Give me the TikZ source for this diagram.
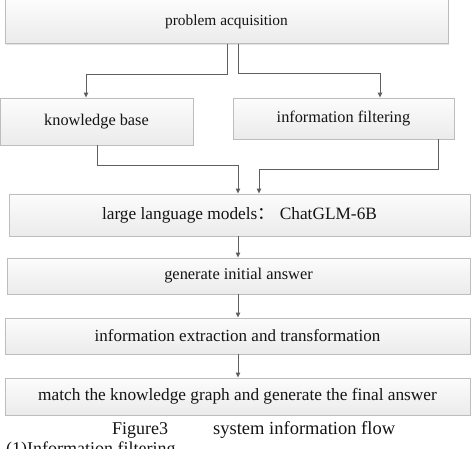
\documentclass[tikz,border=0pt]{standalone}
\usepackage{fontspec}
\setmainfont{Liberation Serif}
\newfontfamily\cjk{Noto Sans CJK SC}
\usetikzlibrary{arrows.meta,shadows}
\definecolor{boxline}{HTML}{BDBDBD}
\definecolor{boxtop}{HTML}{FCFCFC}
\definecolor{boxbot}{HTML}{EBEBEB}
\definecolor{arrcol}{HTML}{5F5F5F}
\definecolor{txtcol}{HTML}{141414}
\tikzset{
  box/.style={draw=boxline, line width=0.9pt, top color=boxtop, bottom color=boxbot,
    drop shadow={shadow xshift=1.2pt, shadow yshift=-1.2pt, fill=black!18, opacity=0.6},
    inner sep=0pt, text=txtcol},
  fs/.style={font=\fontsize{#1}{#1}\selectfont},
  arr/.style={draw=arrcol, line width=1pt, -{Triangle[length=5pt,width=4.5pt]}}
}
\begin{document}
\begin{tikzpicture}[x=1pt,y=1pt]
\useasboundingbox (0,0) rectangle (474,-449);
\begin{scope}
\clip (0,0) rectangle (474,-449);
\node[box, fs=15.4, minimum width=443pt, minimum height=44pt] (pa) at (226.5,-21.5) {problem acquisition};
\node[box, fs=16.3, minimum width=193pt, minimum height=47pt] (kb) at (96.5,-121.5) {knowledge base};
\node[box, fs=16.3, minimum width=221pt, minimum height=41pt] (inf) at (343.5,-118.5) {information filtering};
\node[box, fs=17.3, minimum width=461pt, minimum height=42pt] (llm) at (239.5,-215) {large language models{\cjk ：}\hspace{0.3em}ChatGLM-6B};
\node[box, fs=16.4, minimum width=463pt, minimum height=36pt] (gen) at (238.5,-276) {generate initial answer};
\node[box, fs=17, minimum width=465pt, minimum height=36pt] (ext) at (237.5,-336) {information extraction and transformation};
\node[box, fs=17.3, minimum width=465pt, minimum height=37pt] (fin) at (237.5,-396.5) {match the knowledge graph and generate the final answer};

\draw[arr] ([xshift=0.5pt]pa.south) -- ++(0,-31) -| ([xshift=-10.5pt]kb.north);
\draw[arr] ([xshift=11.5pt]pa.south) -- ++(0,-30) -| ([xshift=36.5pt]inf.north);
\draw[arr] ([xshift=0.5pt]kb.south) -- ++(0,-20) -| ([xshift=-1.5pt]llm.north);
\draw[arr] ([xshift=94.5pt]inf.south) -- ++(0,-30) -| ([xshift=19.5pt]llm.north);
\draw[arr] ([xshift=-1.5pt]llm.south) -- ([xshift=-0.5pt]gen.north);
\draw[arr] ([xshift=-0.5pt]gen.south) -- ([xshift=0.5pt]ext.north);
\draw[arr] ([xshift=0.5pt]ext.south) -- ([xshift=0.5pt]fin.north);

\node[fs=18, anchor=base west, text=txtcol, inner sep=0pt] (cap1) at (112,-434) {Figure3};
\node[fs=18.5, anchor=base west, text=txtcol, inner sep=0pt] (cap2) at (213,-434) {system information flow};
\node[fs=18, anchor=base west, text=txtcol, inner sep=0pt] (sub) at (6,-454) {(1)Information filtering};
\end{scope}
\end{tikzpicture}
\end{document}
